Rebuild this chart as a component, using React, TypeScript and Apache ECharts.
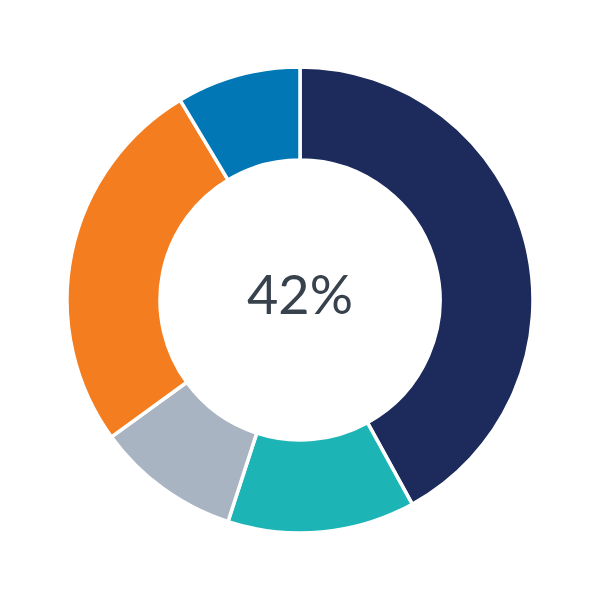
import React, { useEffect, useRef } from "react";
import * as echarts from "echarts";

const categories = ["Navy", "Teal", "Grey", "Orange", "Blue"];
const values = [42, 13, 10, 26.4, 8.6];
const colors = ["#1c2b5b", "#1cb4b5", "#a9b4c2", "#f47d20", "#0277b6"];
const centerLabel = `${values[0]}%`;

export default function App() {
  const ref = useRef<HTMLDivElement>(null);
  useEffect(() => {
    if (!ref.current) return;
    const chart = echarts.init(ref.current, undefined, { renderer: "svg" });
    chart.setOption({
      animation: false,
      backgroundColor: "#ffffff",
      graphic: [
        {
          type: "text",
          left: "center",
          top: 266,
          style: {
            text: centerLabel,
            font: "400 54px Lato, 'Open Sans', sans-serif",
            fill: "#38424d",
          },
        },
      ],
      series: [
        {
          type: "pie",
          center: [300, 300],
          radius: [140, 233],
          startAngle: 90,
          clockwise: true,
          label: { show: false },
          labelLine: { show: false },
          emphasis: { disabled: true },
          itemStyle: { borderColor: "#ffffff", borderWidth: 3.5 },
          data: categories.map((name, i) => ({
            name,
            value: values[i],
            itemStyle: { color: colors[i] },
          })),
        },
      ],
    });
    return () => chart.dispose();
  }, []);
  return (
    <div
      ref={ref}
      style={{ position: "absolute", left: 0, top: 0, width: 600, height: 600 }}
    />
  );
}
